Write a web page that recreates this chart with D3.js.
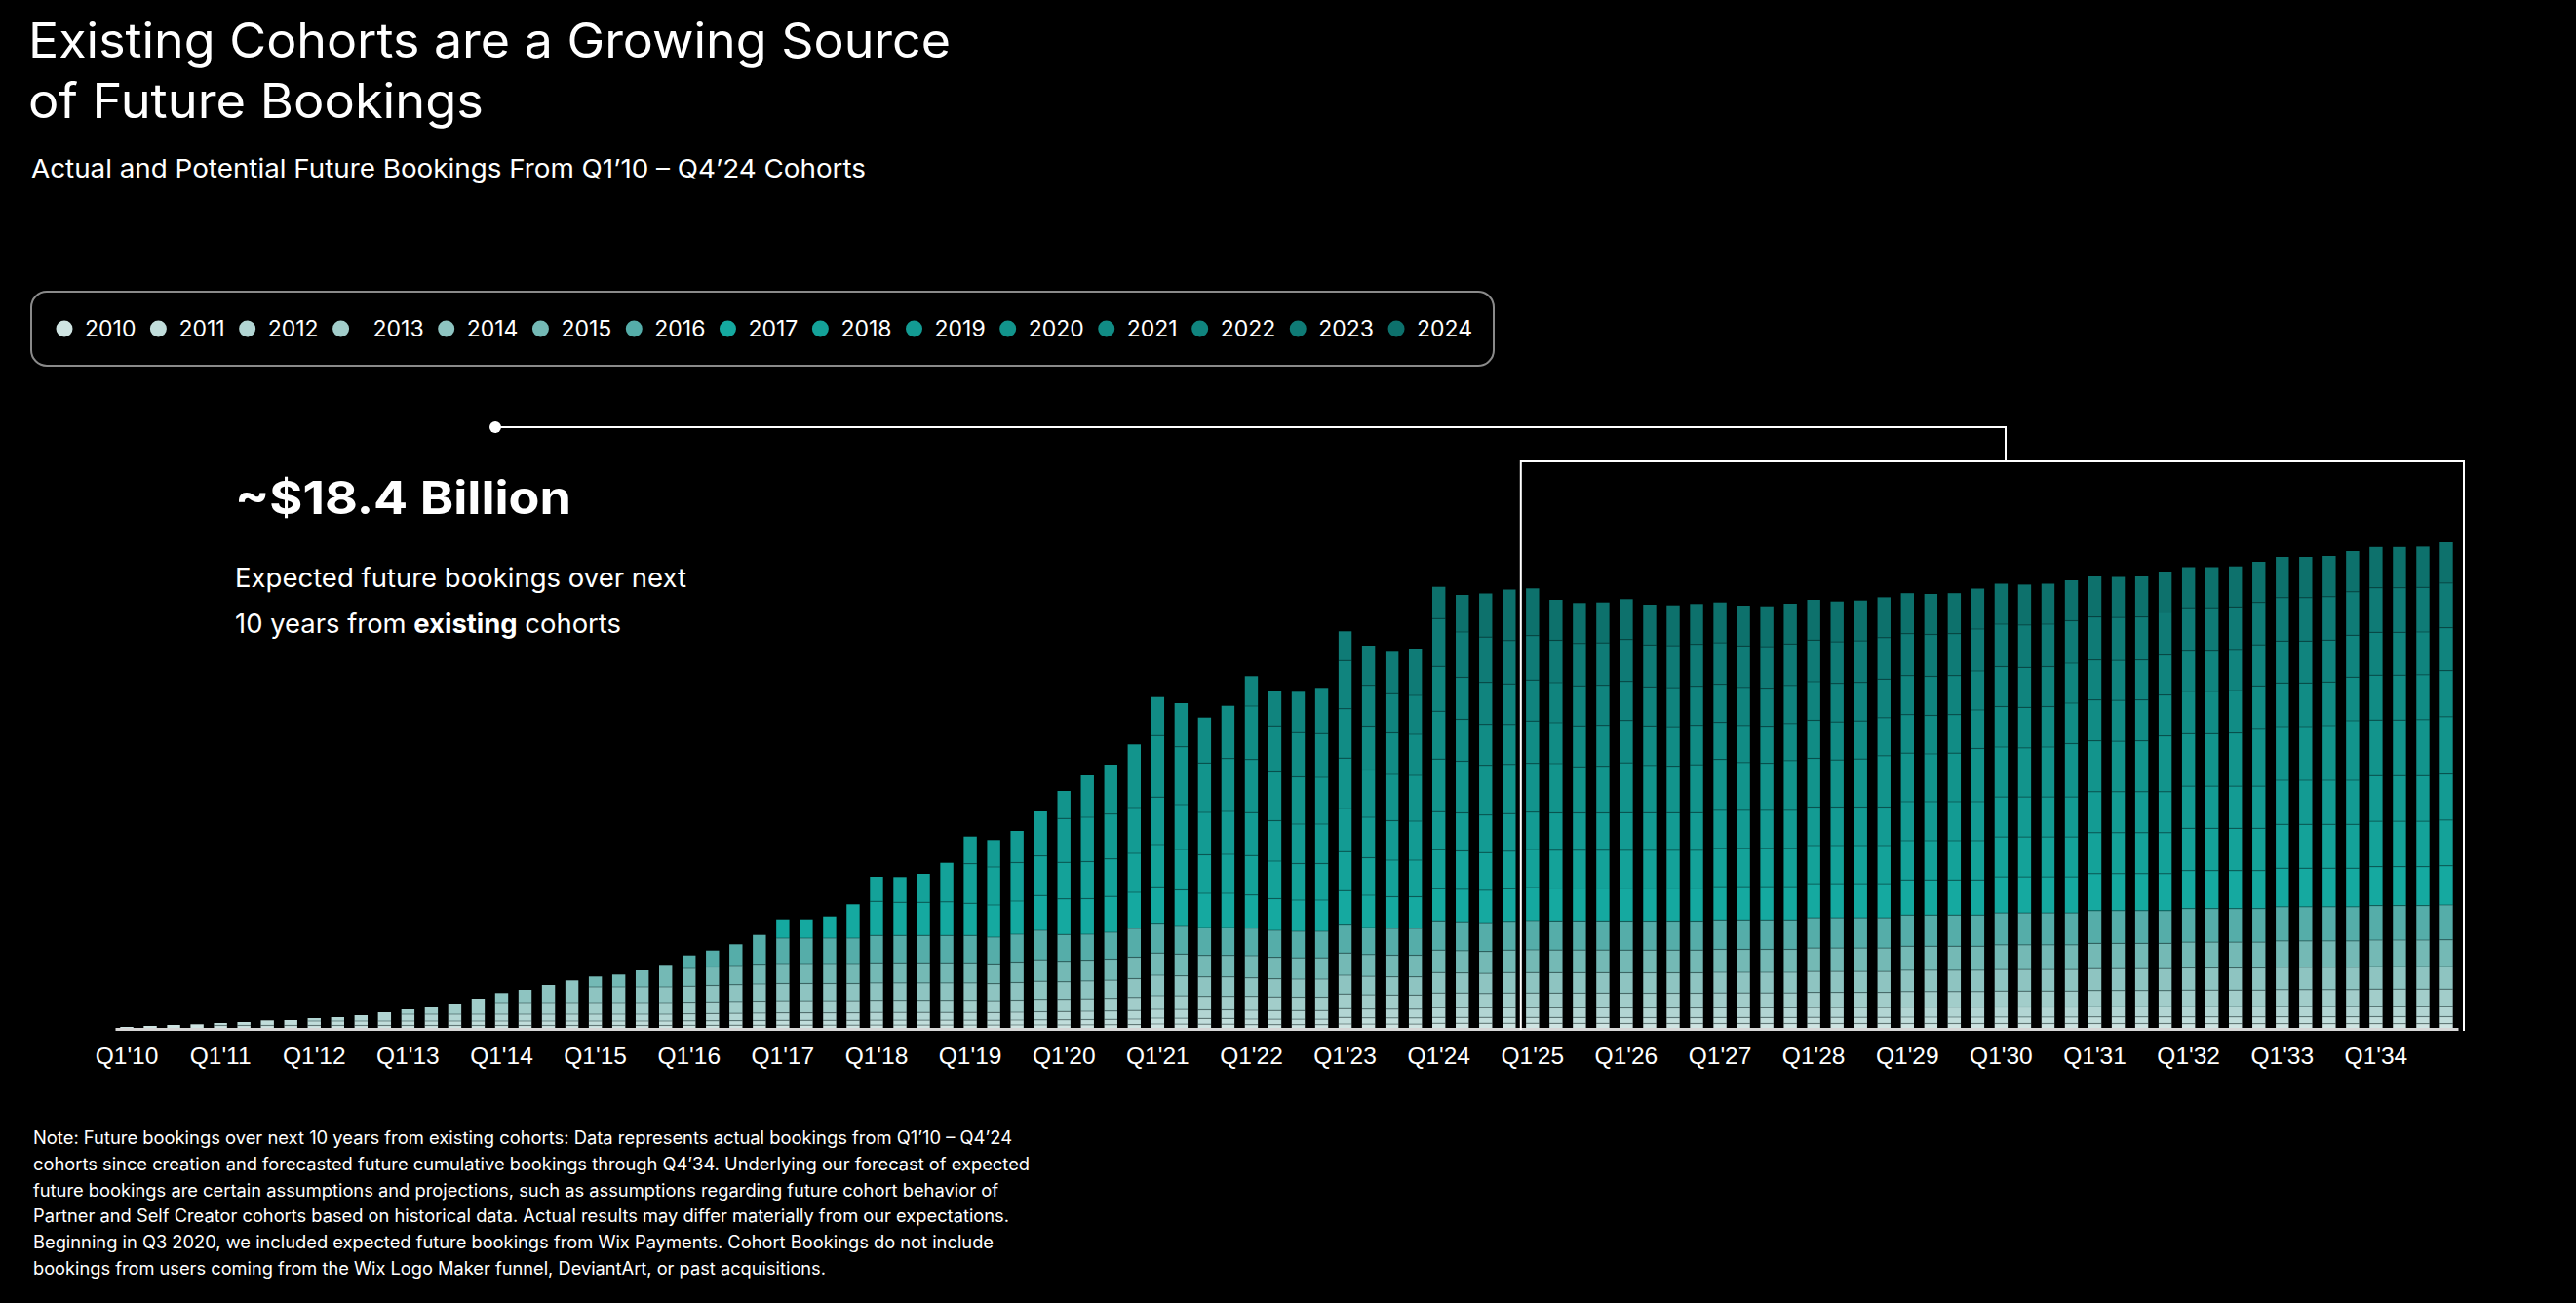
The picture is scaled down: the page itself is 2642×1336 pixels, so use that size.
<!DOCTYPE html>
<html>
<head>
<meta charset="utf-8">
<script src="https://cdn.jsdelivr.net/npm/d3@7"></script>
<style>
  html, body { margin: 0; padding: 0; background: #000; }
  svg { display: block; }
  text { font-family: Inter, "Noto Sans", sans-serif; fill: #fff; }
</style>
</head>
<body>
<svg id="chart" width="2642" height="1336"></svg>
<script>
(function () {

  'use strict';

  var cohorts = ['2010', '2011', '2012', '2013', '2014', '2015', '2016', '2017',
    '2018', '2019', '2020', '2021', '2022', '2023', '2024'];
  var years = ['10', '11', '12', '13', '14', '15', '16', '17', '18', '19', '20', '21',
    '22', '23', '24', '25', '26', '27', '28', '29', '30', '31', '32', '33', '34'];
  var tickLabels = ["Q1'10", "Q1'11", "Q1'12", "Q1'13", "Q1'14", "Q1'15", "Q1'16",
    "Q1'17", "Q1'18", "Q1'19", "Q1'20", "Q1'21", "Q1'22", "Q1'23", "Q1'24", "Q1'25",
    "Q1'26", "Q1'27", "Q1'28", "Q1'29", "Q1'30", "Q1'31", "Q1'32", "Q1'33", "Q1'34"];

  // bookings per quarter ($M) for each yearly cohort, from its first quarter to Q4'34
  var c2010 = [
    2, 3, 4, 4.7,   3.5, 3.5, 3.5, 3.5,   3.5, 3.5, 3.5, 3.5,   3.5, 3.5, 3.5, 3.5,
    3.5, 3.5, 3.5, 3.5,   3.5, 3.5, 3.5, 3.5,   3.6, 3.6, 3.7, 3.7,   3.8, 3.8, 3.8, 3.8,
    3.9, 3.9, 3.9, 3.9,   3.9, 3.9, 4, 4,   4, 4.1, 4.2, 4.4,   5, 4.9, 4.8, 4.8,
    4.3, 4.3, 4.3, 4.3,   5, 4.9, 4.9, 4.9,   5.7, 5.7, 5.7, 5.7,   5.7, 5.6, 5.6, 5.6,
    5.5, 5.5, 5.5, 5.5,   5.5, 5.5, 5.5, 5.5,   5.5, 5.5, 5.5, 5.5,   5.5, 5.5, 5.5, 5.5,
    5.5, 5.5, 5.5, 5.5,   5.5, 5.5, 5.5, 5.5,   5.4, 5.4, 5.4, 5.4,   5.4, 5.4, 5.4, 5.4,
    5.4, 5.4, 5.4, 5.4];
  var c2011 = [
    2.5, 3.5, 5.2, 5.5,   4.5, 4.5, 4.5, 4.5,   4.5, 4.5, 4.5, 4.5,   4.5, 4.5, 4.5, 4.5,
    4.5, 4.5, 4.5, 4.5,   4.6, 4.7, 4.7, 4.8,   4.9, 4.9, 4.9, 4.9,   5, 5, 5, 5,
    5, 4.9, 5, 5.2,   5.3, 5.4, 5.5, 5.6,   6, 6, 5.8, 5.8,   5.7, 5.6, 5.6, 5.6,
    6.7, 6.4, 6.3, 6.3,   6, 6, 6, 6,   6, 6, 6, 6,   6, 6, 6, 6,
    6.1, 6.1, 6.1, 6.1,   6.3, 6.3, 6.3, 6.3,   6.5, 6.5, 6.5, 6.5,   6.6, 6.6, 6.6, 6.6,
    6.8, 6.8, 6.8, 6.8,   6.9, 6.9, 6.9, 6.9,   7, 7, 7, 7,   7.1, 7.1, 7.1, 7.1];
  var c2012 = [
    3, 4, 6, 9,   7, 7, 7, 7,   7, 7, 7, 7,   7, 7, 7, 7,
    7.2, 7.3, 7.5, 7.6,   7.7, 7.7, 7.7, 7.7,   7.9, 7.9, 7.9, 7.9,   7.9, 7.8, 8, 8.3,
    8.4, 8.5, 8.6, 8.8,   9, 9, 8.9, 8.9,   9, 8.8, 8.8, 8.8,   9, 9, 9, 9,
    10, 10, 10, 10,   10, 10, 10, 10,   10, 10, 10, 10,   10, 10, 10, 10,
    10.1, 10.1, 10.1, 10.1,   10.3, 10.3, 10.3, 10.3,   10.4, 10.4, 10.4, 10.4,
    10.5, 10.5, 10.5, 10.5,   10.6, 10.6, 10.6, 10.6,   10.7, 10.7, 10.7, 10.7,
    10.8, 10.8, 10.8, 10.8];
  var c2013 = [
    5, 7.7, 11, 16,   12, 12, 12, 12,   12, 12, 12, 12,   12, 12.1, 12.2, 12.4,
    12.5, 12.5, 12.5, 12.5,   12.5, 12.5, 12.5, 12.5,   12.5, 12.3, 12.5, 12.8,
    12.6, 12.8, 13, 13.4,   14, 14, 13.8, 13.8,   14.3, 14, 13.8, 13.8,
    15, 14.6, 14.4, 14.4,   15, 15, 14.5, 15,   15, 15, 15, 15,   15, 15, 15, 15,
    15.2, 15.2, 15.2, 15.2,   15.5, 15.5, 15.5, 15.5,   15.9, 15.9, 15.9, 15.9,
    16.2, 16.2, 16.2, 16.2,   16.5, 16.5, 16.5, 16.5,   16.8, 16.8, 16.8, 16.8,
    17.1, 17.1, 17.1, 17.1,   17.4, 17.4, 17.4, 17.4];
  var c2014 = [
    9.7, 13, 18, 22.7,   16, 16, 16, 16,   16.3, 16.8, 17.2, 17.5,   17.6, 17.6, 17.6, 17.6,
    17.8, 17.8, 17.8, 17.8,   17.8, 17.5, 18, 18.5,   18, 18.3, 18.6, 19.3,
    21, 20.5, 20, 20,   19, 18.7, 18.5, 18.5,   19.3, 19, 18.8, 18.8,
    21, 20.7, 20.7, 21,   21, 21, 21, 21,   21, 21, 21, 21,
    21.2, 21.2, 21.2, 21.2,   21.5, 21.5, 21.5, 21.5,   21.9, 21.9, 21.9, 21.9,
    22.2, 22.2, 22.2, 22.2,   22.5, 22.5, 22.5, 22.5,   22.8, 22.8, 22.8, 22.8,
    23, 23, 23, 23,   23.2, 23.2, 23.2, 23.2];
  var c2015 = [
    10.7, 12.7, 17, 22.7,   18.3, 19, 19.7, 20.3,   20.5, 20.5, 20.5, 20.5,
    20.6, 20.6, 20.6, 20.6,   20.6, 20.2, 21, 22,   21, 21.3, 21.6, 22,
    22.7, 22.2, 22, 22,   22.7, 22, 21.8, 21.8,   22.7, 22.3, 22.1, 22.1,
    23, 22.7, 22.5, 23,   23.3, 23.2, 23.2, 23.2,   23.2, 23.2, 23.2, 23.2,
    23.5, 23.5, 23.5, 23.5,   24, 24, 24, 24,   24.6, 24.6, 24.6, 24.6,
    25.2, 25.2, 25.2, 25.2,   25.8, 25.8, 25.8, 25.8,   26.4, 26.4, 26.4, 26.4,
    26.9, 26.9, 26.9, 26.9,   27.1, 27.1, 27.1, 27.4];
  var c2016 = [
    13.3, 16.8, 21.7, 30,   26, 26, 26, 26,   28, 28, 28, 28,   28, 27.4, 28.5, 30.2,
    27.4, 26.6, 27.5, 29.5,   30.6, 29.4, 28.7, 28.7,   28.3, 27.6, 27.2, 27.2,
    29.6, 27.8, 27.5, 27.5,   30, 29.7, 29.5, 29.5,   30, 29.8, 29.8, 29.8,
    29.8, 29.8, 29.8, 29.8,   30.2, 30.2, 30.2, 30.2,   31, 31, 31, 31,
    32, 32, 32, 32,   32.8, 32.8, 32.8, 32.8,   33.6, 33.6, 33.6, 33.6,
    34.4, 34.4, 34.4, 34.4,   35, 35, 35, 35,   35.4, 35.4, 35.4, 35.7];
  var c2017 = [
    19.3, 19.3, 22.3, 34.7,   35, 34, 34, 34.5,   33, 33, 34, 35.7,   36.6, 36.5, 36.8, 37,
    37.4, 36.5, 35, 35,   34, 32.5, 32, 32,   34.4, 33, 32.5, 32.5,   33, 33.3, 33.2, 33.5,
    34, 33.8, 33.8, 33.8,   33.8, 33.8, 33.8, 33.8,   34.2, 34.2, 34.2, 34.2,
    35, 35, 35, 35,   36, 36, 36, 36,   37, 37, 37, 37,   38, 38, 38, 38,
    39, 39, 39, 39,   39.6, 39.6, 39.6, 39.6,   40, 40, 40, 40.3];
  var c2018 = [
    25.3, 26, 29.3, 40.1,   40.7, 39, 39.5, 40.7,   37.4, 38, 38.5, 40,   43.3, 41.5, 39.5, 40,
    40.4, 38.5, 37.5, 37.5,   40, 38.5, 37.5, 37.5,   40, 39.4, 38.6, 38.5,
    39, 38.8, 38.8, 38.8,   38.8, 38.8, 38.8, 38.8,   39.2, 39.2, 39.2, 39.2,
    39.1, 39.1, 39.1, 39.1,   40.3, 40.3, 40.3, 40.3,   41, 41, 41, 41,
    42, 42, 42, 42,   43.3, 43.3, 43.3, 43.3,   45, 45, 45, 45,   46.5, 46.5, 46.5, 46.8];
  var c2019 = [
    27.9, 27.7, 32.5, 45.6,   45, 45.5, 46, 47,   48.7, 46, 43.5, 44,   44, 41.5, 40.5, 40.5,
    44, 41.5, 40.5, 40,   39, 39, 38.6, 38.5,   38.3, 38.3, 38.3, 38.3,
    38.5, 38.5, 38.5, 38.5,   39, 39, 39, 39,   39.5, 39.5, 39.5, 39.5,
    40, 40, 40, 40,   41, 41, 41, 41,   42, 42, 42, 42,   43.3, 43.3, 43.3, 43.3,
    45.3, 45.3, 45.3, 45.3,   46.8, 46.8, 46.8, 47.3];
  var c2020 = [
    28.3, 43, 50.7, 64.7,   63, 59.3, 50.6, 54.3,   54.6, 50, 48.5, 48,   52, 48.5, 47.5, 47,
    54, 53, 51, 50.5,   50, 50.5, 47.2, 47.8,   51.2, 48.5, 47.8, 49.2,
    52.3, 49, 48.3, 51,   50, 48.3, 49.3, 52.6,   49.8, 49, 49.8, 54.5,
    51.1, 50.2, 51.1, 54.6,   52.2, 51.7, 52.2, 57.2,   53.7, 53.7, 54.5, 59.2,
    55, 55, 56, 61,   57, 57, 57.4, 58.7];
  var c2021 = [
    39.6, 44.7, 46.7, 54,   54.7, 47.2, 45.2, 44.7,   50.6, 45, 42.5, 42,   49, 43, 42, 41,
    43.4, 42, 42, 42,   43.5, 40.5, 40.5, 40.5,   38, 38, 38, 38,   39, 39, 39, 39,
    39.5, 39.5, 39.5, 39.5,   41.5, 41.5, 41.5, 41.5,   42, 42, 42, 42,
    43.5, 43.5, 43.5, 43.5,   44.6, 44.6, 44.6, 44.6,   46, 46, 46, 47.3];
  var c2022 = [
    30.7, 36, 42, 47,   49.4, 41.8, 40.2, 40,   46, 43, 43, 41.5,   42, 41, 41, 41,
    40, 40, 40, 40,   39, 39, 39, 39,   39.5, 39.5, 39.5, 39.5,   40, 40, 40, 40,
    41, 41, 41, 41,   41, 41, 41, 41,   42.2, 42.2, 42.2, 42.2,   43, 43, 43, 43,
    43.9, 43.9, 43.9, 44];
  var c2023 = [
    30, 40.7, 44, 48,   49, 46.5, 46.5, 44.5,   45.6, 43.5, 43.5, 43.5,   43, 43, 43, 43,
    42.5, 42.5, 42.5, 42.5,   42.6, 42.6, 42.6, 42.6,   43, 43, 43, 43,
    43.5, 43.5, 43.5, 43.5,   44, 44, 44, 44,   43.5, 43.5, 43.5, 43.5,
    44.6, 44.6, 44.6, 44.6,   45.7, 45.7, 45.7, 45.7];
  var c2024 = [
    32.6, 38, 44.7, 52.3,   48.4, 41.5, 41.5, 41.5,   41.4, 41.4, 41.4, 41.4,
    41.4, 41.4, 41.4, 41.4,   41.4, 41.4, 41.4, 41.4,   41.5, 41.5, 41.5, 41.5,
    41.5, 41.5, 41.5, 41.5,   41.6, 41.6, 41.6, 41.6,   41.7, 41.7, 41.7, 41.7,
    41.8, 41.8, 41.8, 41.8,   41.9, 41.9, 41.9, 41.9];

  var cohortValues = [c2010, c2011, c2012, c2013, c2014, c2015, c2016, c2017,
    c2018, c2019, c2020, c2021, c2022, c2023, c2024];

  var cohortColors = ['#cfe4e2', '#c1dddb', '#b2d5d3', '#a2cdca', '#8ec4c1', '#74b9b5',
    '#55ada9', '#15a9a0', '#14a299', '#139b93', '#12948c', '#118c85', '#10847e',
    '#0f7b76', '#0d716c'];

  var titleLines = ['Existing Cohorts are a Growing Source', 'of Future Bookings'];
  var subtitle = 'Actual and Potential Future Bookings From Q1\u201910 \u2013 Q4\u201924 Cohorts';
  var noteLines = [
    'Note: Future bookings over next 10 years from existing cohorts: Data represents actual bookings from Q1\u201910 \u2013 Q4\u201924',
    'cohorts since creation and forecasted future cumulative bookings through Q4\u201934. Underlying our forecast of expected',
    'future bookings are certain assumptions and projections, such as assumptions regarding future cohort behavior of',
    'Partner and Self Creator cohorts based on historical data. Actual results may differ materially from our expectations.',
    'Beginning in Q3 2020, we included expected future bookings from Wix Payments. Cohort Bookings do not include',
    'bookings from users coming from the Wix Logo Maker funnel, DeviantArt, or past acquisitions.'
  ];

  // ----------- TABLE --------------

  var quarters = [];
  years.forEach(function (y) {
    for (var q = 1; q <= 4; q++) { quarters.push('Q' + q + "'" + y); }
  });

  var table = quarters.map(function (q, i) {
    var row = { quarter: q };
    cohorts.forEach(function (c, k) {
      var start = k * 4;
      row[c] = i >= start ? cohortValues[k][i - start] : 0;
    });
    return row;
  });

  cohortValues.forEach(function (arr, k) {
    if (arr.length !== quarters.length - k * 4) {
      console.error('cohort ' + cohorts[k] + ' has ' + arr.length + ' values');
    }
  });

  var series = d3.stack().keys(cohorts)(table);

  // ----------- SCALES --------------

  var svg = d3.select('#chart');
  var baseY = 1055;

  var x = d3.scaleBand()
    .domain(quarters)
    .range([118, 2521])
    .paddingInner(0.442)
    .paddingOuter(0.221);

  var y = d3.scaleLinear()
    .domain([0, 500])
    .range([baseY, baseY - 500]);

  var color = d3.scaleOrdinal().domain(cohorts).range(cohortColors);

  // ----------- TITLES --------------

  function fitText(sel, width) {
    sel.attr('textLength', width).attr('lengthAdjust', 'spacingAndGlyphs');
  }

  svg.append('text').attr('x', 29).attr('y', 59)
    .style('font-size', '49px').text(titleLines[0]).call(fitText, 946);
  svg.append('text').attr('x', 29).attr('y', 121)
    .style('font-size', '49px').text(titleLines[1]).call(fitText, 467);
  svg.append('text').attr('x', 32).attr('y', 182)
    .style('font-size', '26px').text(subtitle).call(fitText, 856);

  // ----------- LEGEND --------------

  svg.append('rect')
    .attr('x', 32).attr('y', 299).attr('width', 1500).attr('height', 76)
    .attr('rx', 16)
    .attr('fill', 'none').attr('stroke', '#8a8a8a').attr('stroke-width', 2);

  var lx = 66;
  cohorts.forEach(function (c) {
    svg.append('circle').attr('cx', lx).attr('cy', 337).attr('r', 8.5)
      .attr('fill', color(c));
    // the 2013 label sits a little further from its dot in the original
    var pad = c === '2013' ? 33 : 21;
    var t = svg.append('text').attr('x', lx + pad).attr('y', 345)
      .style('font-size', '23px').text(c);
    lx = lx + pad + t.node().getComputedTextLength() + 23;
  });

  // ----------- BARS --------------

  var layer = svg.append('g').selectAll('g')
    .data(series)
    .enter()
    .append('g')
    .attr('fill', function (s) { return color(s.key); });

  layer.selectAll('rect')
    .data(function (s) { return s.filter(function (d) { return d[1] - d[0] > 0; }); })
    .enter()
    .append('rect')
    .attr('x', function (d) { return x(d.data.quarter); })
    .attr('y', function (d) { return y(d[1]); })
    .attr('width', x.bandwidth())
    .attr('height', function (d) { return y(d[0]) - y(d[1]); });

  // thin divider between cohort segments
  layer.selectAll('line')
    .data(function (s) { return s.filter(function (d) { return d[1] - d[0] > 0 && d[0] > 0; }); })
    .enter()
    .append('line')
    .attr('x1', function (d) { return x(d.data.quarter); })
    .attr('x2', function (d) { return x(d.data.quarter) + x.bandwidth(); })
    .attr('y1', function (d) { return y(d[0]); })
    .attr('y2', function (d) { return y(d[0]); })
    .attr('stroke', 'rgba(0,30,30,0.35)')
    .attr('stroke-width', 1.2);

  // ----------- AXIS --------------

  var axis = svg.append('g')
    .attr('transform', 'translate(0,' + baseY + ')')
    .call(d3.axisBottom(x)
      .tickValues(quarters.filter(function (q, i) { return i % 4 === 0; }))
      .tickFormat(function (q, i) { return tickLabels[i]; })
      .tickSize(0)
      .tickPadding(19));

  axis.select('.domain').attr('stroke', '#d6d6d6').attr('stroke-width', 3);
  axis.selectAll('text')
    .attr('fill', '#fff')
    .style('font-family', '"Liberation Sans", Arial, sans-serif')
    .style('font-size', '24.5px');

  // ----------- FORECAST BOX & CALLOUT --------------

  var firstForecast = quarters.indexOf("Q1'25");
  var gap = x.step() - x.bandwidth();
  var boxLeft = x(quarters[firstForecast]) - gap / 2;
  var boxRight = x.range()[1] + 6;
  var boxTop = 473;
  var hookX = 2057;
  var dotX = 508;
  var dotY = 438;

  svg.append('path')
    .attr('d', 'M' + boxLeft + ',' + (baseY + 1) + 'V' + boxTop + 'H' + boxRight + 'V' + (baseY + 2))
    .attr('fill', 'none').attr('stroke', '#fff').attr('stroke-width', 2);

  svg.append('path')
    .attr('d', 'M' + dotX + ',' + dotY + 'H' + hookX + 'V' + boxTop)
    .attr('fill', 'none').attr('stroke', '#fff').attr('stroke-width', 2);

  svg.append('circle').attr('cx', dotX).attr('cy', dotY).attr('r', 6).attr('fill', '#fff');

  svg.append('text').attr('x', 241).attr('y', 527)
    .style('font-size', '47px').style('font-weight', 700)
    .text('~$18.4 Billion').call(fitText, 345);

  svg.append('text').attr('x', 241).attr('y', 602)
    .style('font-size', '27px')
    .text('Expected future bookings over next').call(fitText, 463);

  var line2 = svg.append('text').attr('x', 241).attr('y', 649).style('font-size', '27px');
  line2.append('tspan').text('10 years from ');
  line2.append('tspan').style('font-weight', 700).text('existing');
  line2.append('tspan').text(' cohorts');
  line2.call(fitText, 396);

  // ----------- NOTE --------------

  var noteWidths = [1004, 1022, 990, 1001, 985, 813];
  noteLines.forEach(function (line, i) {
    svg.append('text')
      .attr('x', 34).attr('y', 1173 + i * 26.8)
      .style('font-size', '18px')
      .text(line)
      .call(fitText, noteWidths[i]);
  });

})();
</script>
</body>
</html>
